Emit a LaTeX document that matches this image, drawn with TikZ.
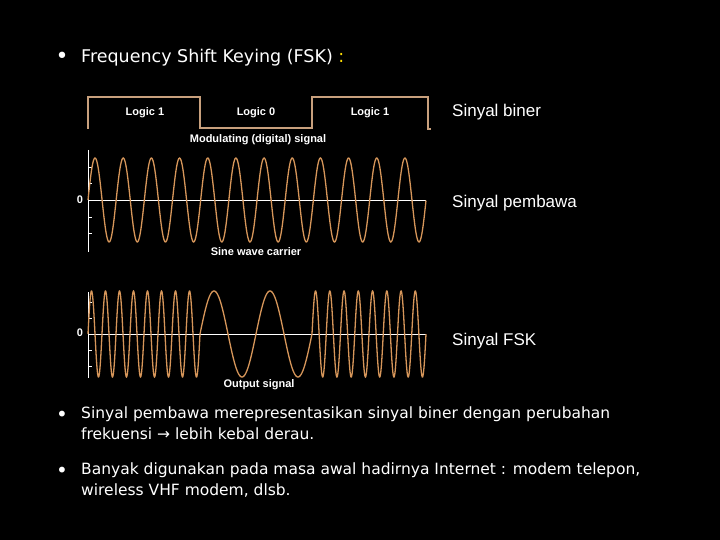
\documentclass[tikz,border=0pt]{standalone}
\usepackage{fontspec}
\setmainfont{DejaVu Sans}
\newfontfamily\arial{Liberation Sans}
\begin{document}
\begin{tikzpicture}[x=1pt,y=-1pt,
  sig/.style={draw={rgb,255:red,214;green,150;blue,90},line width=1.3pt},
  dig/.style={draw={rgb,255:red,200;green,160;blue,125},line width=1.6pt},
  ax/.style={draw=white,line width=0.8pt},
  small/.style={text=white,font=\arial\bfseries\fontsize{11}{13}\selectfont,inner sep=0},
  lab/.style={text=white,font=\arial\fontsize{17}{20}\selectfont,anchor=west,inner sep=0},
  txt/.style={text=white,font=\fontsize{15.5}{21}\selectfont,anchor=north west,inner sep=0,align=left}]
\fill[black] (0,0) rectangle (720,540);
\useasboundingbox (0,0) rectangle (720,540);
% title
\node[txt,anchor=center,font=\fontsize{22}{22}\selectfont] (tb) at (62,58) {•};
\node[txt,font=\fontsize{17.5}{21}\selectfont,anchor=west] (title) at (81,58) {Frequency Shift Keying (FSK) {\color{yellow!80!orange}:}};
% digital
\draw[dig] (88,129) -- (88,97) -- (200,97) -- (200,128) -- (312,128) -- (312,97) -- (428,97) -- (428,129) -- (431,129);
\node[small] (l1) at (145,113) {Logic 1};
\node[small] (l0) at (256,113) {Logic 0};
\node[small] (l2) at (370,113) {Logic 1};
\node[small] (mod) at (258,140) {Modulating (digital) signal};
% carrier
\draw[ax] (88,150) -- (88,252);
\foreach \t in {167,183,217,233} \draw[ax] (88,\t) -- (92,\t);
\draw[ax] (88,200) -- (426,200);
\node[small] (z1) at (80,200) {0};
\draw[sig] plot[domain=88:426,samples=500,smooth] (\x,{200-42*sin(12.779*(\x-88))});
\node[small] (sw) at (256,252) {Sine wave carrier};
% output
\draw[ax] (88,292) -- (88,378);
\foreach \t in {302,318,350,366} \draw[ax] (88,\t) -- (92,\t);
\draw[ax] (88,334) -- (426,334);
\node[small] (z2) at (80,333) {0};
\draw[sig] plot[domain=88:200,samples=400,smooth] (\x,{334-43*sin(25.714*(\x-88))})
  -- plot[domain=200:312,samples=200,smooth] (\x,{334-43*sin(6.4286*(\x-200))})
  -- plot[domain=312:426,samples=400,smooth] (\x,{334-43*sin(25.263*(\x-312))});
\node[small] (os) at (259,385) {Output signal};
% right labels
\node[lab] (sb) at (452,112) {Sinyal biner};
\node[lab] (sp) at (452,203) {Sinyal pembawa};
\node[lab] (sf) at (452,341) {Sinyal FSK};
% bullets
\node[txt,anchor=center,font=\fontsize{20}{21}\selectfont] (b1) at (62,416) {•};
\node[txt] (t1) at (81,407) {Sinyal pembawa merepresentasikan sinyal biner dengan perubahan\\frekuensi → lebih kebal derau.};
\node[txt,anchor=center,font=\fontsize{20}{21}\selectfont] (b2) at (62,472) {•};
\node[txt] (t2) at (81,463) {Banyak digunakan pada masa awal hadirnya Internet : modem telepon,\\wireless VHF modem, dlsb.};
\end{tikzpicture}
\end{document}
